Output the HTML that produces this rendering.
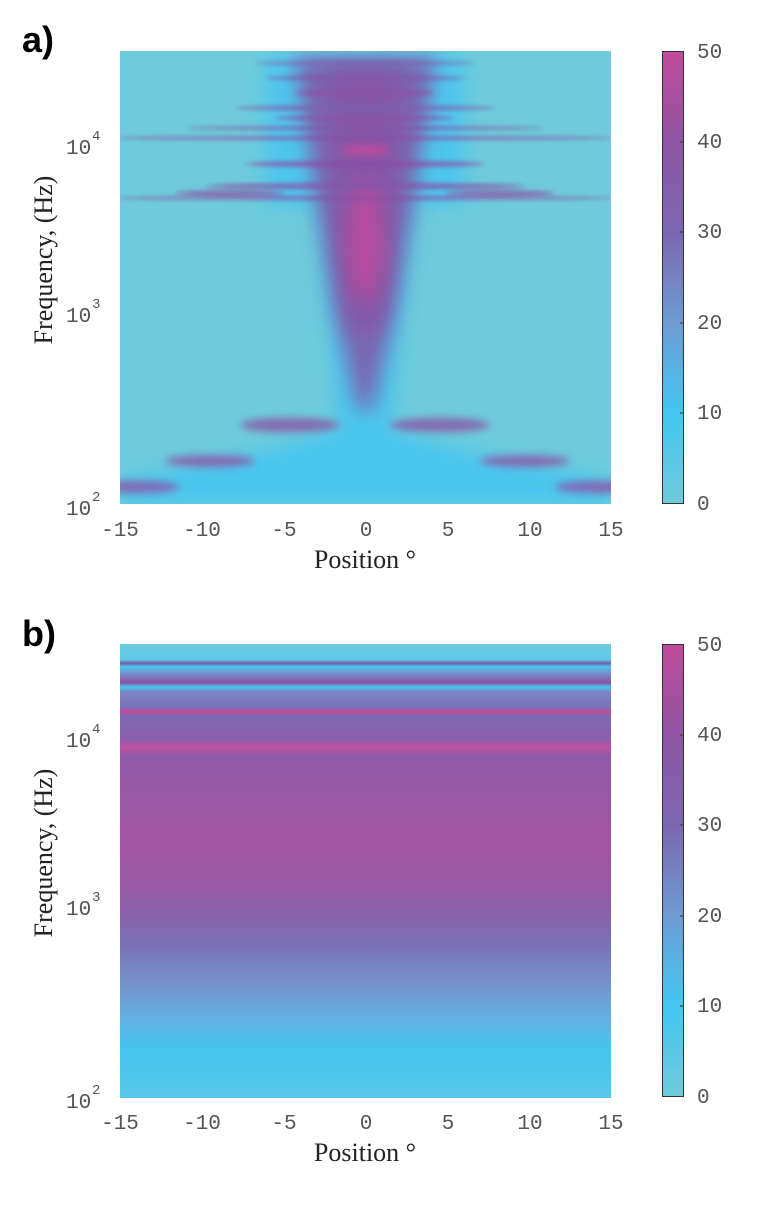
<!DOCTYPE html>
<html><head><meta charset="utf-8"><style>
body{margin:0;background:#fff;width:765px;height:1207px;overflow:hidden}
svg{display:block}
.t{font-family:"Liberation Mono",monospace;font-size:21px;fill:#555}
.s{font-family:"Liberation Mono",monospace;font-size:14px;fill:#555}
.lab{font-family:"Liberation Serif",serif;font-size:26px;fill:#222}
.big{font-family:"Liberation Sans",sans-serif;font-weight:bold;font-size:36px;fill:#000}
</style></head><body>
<svg width="765" height="1207" viewBox="0 0 765 1207">
<defs>
<filter id="b4" x="-50%" y="-50%" width="200%" height="200%"><feGaussianBlur stdDeviation="4"/></filter>
<filter id="b10" x="-50%" y="-50%" width="200%" height="200%"><feGaussianBlur stdDeviation="10"/></filter>
<filter id="b2" x="-50%" y="-50%" width="200%" height="200%"><feGaussianBlur stdDeviation="2"/></filter>
<clipPath id="ca"><rect x="120" y="51" width="491" height="453"/></clipPath>
<linearGradient id="cb" x1="0" y1="1" x2="0" y2="0">
<stop offset="0" stop-color="#6fcbdb"/><stop offset="0.2" stop-color="#42c6f2"/>
<stop offset="0.4" stop-color="#6e9cd3"/><stop offset="0.6" stop-color="#7b67b0"/>
<stop offset="0.8" stop-color="#8f55a3"/><stop offset="1" stop-color="#c24a9b"/></linearGradient>
<linearGradient id="gb" x1="0" y1="644" x2="0" y2="1098" gradientUnits="userSpaceOnUse">
<stop offset="0" stop-color="#6ccbdf"/><stop offset="0.035" stop-color="#5ec8e8"/>
<stop offset="0.042" stop-color="#7a5aa8"/><stop offset="0.05" stop-color="#45c6f0"/>
<stop offset="0.06" stop-color="#6fa0d4"/><stop offset="0.085" stop-color="#8a50a0"/>
<stop offset="0.095" stop-color="#45c6f0"/><stop offset="0.105" stop-color="#7a86c4"/>
<stop offset="0.14" stop-color="#7a70b8"/><stop offset="0.148" stop-color="#c04c9c"/>
<stop offset="0.16" stop-color="#7f6ab2"/><stop offset="0.21" stop-color="#8a5fac"/>
<stop offset="0.227" stop-color="#c250a0"/><stop offset="0.245" stop-color="#905aa8"/>
<stop offset="0.43" stop-color="#a255a2"/><stop offset="0.53" stop-color="#9a58a5"/>
<stop offset="0.6" stop-color="#8862aa"/><stop offset="0.66" stop-color="#7b70b5"/>
<stop offset="0.74" stop-color="#7590c8"/><stop offset="0.82" stop-color="#65aee0"/>
<stop offset="0.89" stop-color="#45c4f0"/><stop offset="1" stop-color="#58c8e8"/></linearGradient>
</defs>

<text class="big" x="22" y="52">a)</text>
<text class="big" x="22" y="646">b)</text>

<g clip-path="url(#ca)">
<rect x="120" y="51" width="491" height="453" fill="#6fcbdb"/>
<path d="M120 504 L120 480 L250 455 L340 430 L365 300 L390 430 L480 455 L611 480 L611 504Z" fill="#48c6f0" filter="url(#b10)"/>
<rect x="265" y="55" width="200" height="150" fill="#4ec6ee" filter="url(#b10)"/>
<path d="M315 190 L415 190 L390 420 L340 420Z" fill="#48c6f0" filter="url(#b10)"/>
<path d="M295 58 L435 58 L415 190 L398 300 L372 410 L358 410 L332 300 L315 190Z" fill="#7a66b0" filter="url(#b10)"/>
<path d="M330 70 L400 70 L395 200 L380 330 L350 330 L335 200Z" fill="#8456a6" filter="url(#b10)"/>
<ellipse cx="365" cy="240" rx="18" ry="60" fill="#b84c9e" filter="url(#b10)"/>
<ellipse cx="365" cy="150" rx="25" ry="6" fill="#b84c9e" filter="url(#b4)"/>
<g filter="url(#b2)" opacity="0.75">
<ellipse cx="365" cy="63" rx="110" ry="2" fill="#8058a8"/>
<ellipse cx="365" cy="78" rx="100" ry="2.5" fill="#8058a8"/>
<ellipse cx="365" cy="93" rx="70" ry="4" fill="#8a52a5"/>
<ellipse cx="365" cy="108" rx="130" ry="3" fill="#7f62ae"/>
<ellipse cx="365" cy="118" rx="90" ry="3" fill="#8a52a5"/>
<ellipse cx="365" cy="128" rx="180" ry="2" fill="#8454a6"/>
<ellipse cx="365" cy="138" rx="250" ry="2" fill="#8a4ea4"/>
<ellipse cx="365" cy="164" rx="120" ry="3.5" fill="#8a4ea4"/>
<ellipse cx="365" cy="186" rx="160" ry="3.5" fill="#8555a8"/>
<ellipse cx="365" cy="198" rx="250" ry="2" fill="#8a4ea4"/>
<ellipse cx="230" cy="193" rx="55" ry="3" fill="#8858a8"/>
<ellipse cx="500" cy="193" rx="55" ry="3" fill="#8858a8"/>
</g>
<g filter="url(#b4)" opacity="0.85">
<ellipse cx="290" cy="425" rx="50" ry="7" fill="#8858a8"/>
<ellipse cx="440" cy="425" rx="50" ry="7" fill="#8858a8"/>
<ellipse cx="210" cy="461" rx="45" ry="6" fill="#8858a8"/>
<ellipse cx="525" cy="461" rx="45" ry="6" fill="#8858a8"/>
<ellipse cx="135" cy="487" rx="45" ry="6" fill="#8a55a8"/>
<ellipse cx="600" cy="487" rx="45" ry="6" fill="#8a55a8"/>
</g>
</g>
<rect x="662.5" y="51.5" width="21" height="452" fill="url(#cb)" stroke="#333" stroke-width="1"/>
<g stroke="#333"><line x1="680" y1="142" x2="683" y2="142"/><line x1="680" y1="232" x2="683" y2="232"/><line x1="680" y1="323" x2="683" y2="323"/><line x1="680" y1="413" x2="683" y2="413"/></g>
<g class="t"><text x="697" y="58">50</text><text x="697" y="148">40</text><text x="697" y="238">30</text><text x="697" y="329">20</text><text x="697" y="419">10</text><text x="697" y="510">0</text></g>
<g class="t"><text x="66" y="154">10</text><text x="66" y="322">10</text><text x="66" y="515">10</text></g>
<g class="s"><text x="92" y="140">4</text><text x="92" y="308">3</text><text x="92" y="501">2</text></g>
<g class="t" text-anchor="middle"><text x="120" y="536">-15</text><text x="202" y="536">-10</text><text x="284" y="536">-5</text><text x="366" y="536">0</text><text x="448" y="536">5</text><text x="530" y="536">10</text><text x="611" y="536">15</text></g>
<text class="lab" x="365" y="568" text-anchor="middle">Position °</text>
<text class="lab" transform="translate(52,260) rotate(-90)" text-anchor="middle">Frequency, (Hz)</text>

<rect x="120" y="644" width="491" height="454" fill="url(#gb)"/>
<rect x="662.5" y="644.5" width="21" height="452" fill="url(#cb)" stroke="#333" stroke-width="1"/>
<g stroke="#333"><line x1="680" y1="735" x2="683" y2="735"/><line x1="680" y1="825" x2="683" y2="825"/><line x1="680" y1="916" x2="683" y2="916"/><line x1="680" y1="1006" x2="683" y2="1006"/></g>
<g class="t"><text x="697" y="651">50</text><text x="697" y="741">40</text><text x="697" y="831">30</text><text x="697" y="922">20</text><text x="697" y="1012">10</text><text x="697" y="1103">0</text></g>
<g class="t"><text x="66" y="747">10</text><text x="66" y="915">10</text><text x="66" y="1108">10</text></g>
<g class="s"><text x="92" y="733">4</text><text x="92" y="901">3</text><text x="92" y="1094">2</text></g>
<g class="t" text-anchor="middle"><text x="120" y="1129">-15</text><text x="202" y="1129">-10</text><text x="284" y="1129">-5</text><text x="366" y="1129">0</text><text x="448" y="1129">5</text><text x="530" y="1129">10</text><text x="611" y="1129">15</text></g>
<text class="lab" x="365" y="1161" text-anchor="middle">Position °</text>
<text class="lab" transform="translate(52,853) rotate(-90)" text-anchor="middle">Frequency, (Hz)</text>
</svg>
</body></html>
